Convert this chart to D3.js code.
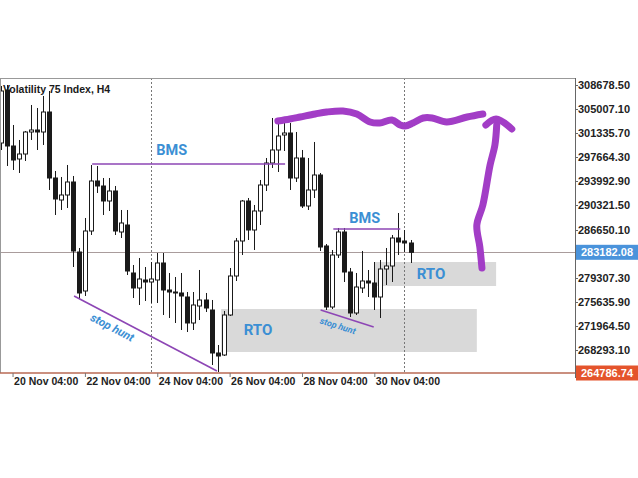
<!DOCTYPE html>
<html>
<head>
<meta charset="utf-8">
<script src="https://cdn.jsdelivr.net/npm/d3@7"></script>
<style>
  html, body { margin: 0; padding: 0; background: #fff; }
  svg { display: block; font-family: Roboto, "Liberation Sans", Arial, sans-serif; }
</style>
</head>
<body>
<svg id="chart" width="638" height="478"></svg>
<script>
// H4 bars, first one opens 19 Nov 20:00
const start = new Date(2020, 10, 19, 20, 0);
const barHours = 4;

const opens = [
  299840, 307917, 299383, 297401, 298163, 301516, 301821, 301516, 304564, 294506,
  291153, 291915, 293896, 283228, 277285, 286429, 294049, 293287, 291001, 292525,
  286276, 287343, 280028, 277742, 278961, 278656, 278961, 281552, 277437, 277132,
  276980, 276370, 272408, 274999, 275913, 274389, 267836, 267531, 273627, 279571,
  284905, 291001, 286581, 289477, 293439, 296792, 298773, 301059, 301364, 294506,
  297554, 290239, 292677, 294963, 284143, 274846, 282771, 286276, 280180, 273932,
  277742, 278809, 278504, 276370, 280637, 281095, 285362, 284905, 284600
];
const highs = [
  308527, 308679, 302583, 300297, 301669, 305631, 305174, 307003, 307765, 295573,
  294658, 296487, 294811, 283838, 288410, 296487, 296335, 294506, 294506, 293287,
  289629, 289629, 281247, 282314, 280942, 281704, 283076, 283076, 280028, 279418,
  280028, 277132, 277132, 280485, 276980, 275913, 269055, 274237, 280790, 285362,
  291153, 291458, 290391, 294201, 297554, 303650, 303193, 302888, 302888, 301516,
  298773, 297554, 299992, 295268, 284447, 283533, 286886, 286886, 280790, 280028,
  283381, 280485, 281704, 282009, 283838, 285819, 289172, 286581, 285057
];
const lows = [
  298773, 296335, 295725, 295268, 297097, 300297, 298773, 299535, 292677, 288867,
  289629, 289934, 280942, 276065, 276523, 285819, 292220, 288867, 289477, 285819,
  285362, 279723, 276218, 275151, 275761, 275456, 275456, 273627, 273170, 272408,
  271341, 271036, 271341, 272865, 274084, 266007, 264940, 267379, 273475, 278809,
  282771, 285057, 283533, 287343, 292525, 296030, 295420, 298621, 292677, 293896,
  289934, 289629, 291458, 283381, 274389, 274541, 282314, 278656, 273322, 273627,
  276980, 276370, 274389, 273170, 278199, 278656, 282771, 283228, 281552
];
const closes = [
  307765, 299383, 297249, 298163, 301516, 301821, 301516, 304564, 294506, 291305,
  291915, 293896, 283381, 276980, 286429, 294049, 293287, 291001, 292525, 286429,
  287648, 280333, 277742, 279113, 278656, 279113, 281552, 277437, 277132, 276980,
  276523, 272408, 275151, 275913, 274694, 267836, 267379, 273627, 279571, 284905,
  291001, 286581, 289477, 293439, 296792, 298773, 300907, 301364, 294506, 297554,
  290239, 292677, 294963, 283990, 274846, 282771, 286276, 280180, 273932, 277894,
  278809, 278504, 276370, 280637, 281095, 285362, 284752, 284600, 283182.08
];

const yTicks = [308678.50, 305007.10, 301335.70, 297664.30, 293992.90, 290321.50,
                286650.10, 279307.30, 275635.90, 271964.50, 268293.10];
const bidPrice = 283182.08;
const alertPrice = 264786.74;
const xTickBars = [2, 14, 26, 38, 50, 62];
const separatorBars = [25, 67];

// annotations: [fromBar, toBar, price]
const bmsLines = [[15.2, 47.2, 296640], [55.2, 66.3, 286730]];
const bmsLabels = [[28.4, 298010], [60.4, 287650]];
// [fromBar, fromPrice, toBar, toPrice]
const stopHunts = [[12.2, 276520, 35.9, 265090], [53.1, 274390, 61.9, 271800]];
const stopHuntSizes = [11.5, 9];
// [fromBar, toBar, topPrice, bottomPrice]
const rtoZones = [[36.6, 79.0, 274540, 267990], [62.1, 82.2, 281700, 278050]];
const rtoLabelBars = [42.7, 71.4];

// hand drawn marker
const scribbleBars = [46.0, 48.0, 49.7, 52.2, 54.1, 56.8, 59.1, 61.3, 62.9, 64.9, 66.3, 67.1, 68.4, 70.1, 71.6, 74.0, 77.4, 80.0];
const scribblePrices = [303193, 303498, 303803, 304260, 304564, 304717, 304260, 303040, 302888, 303345, 302583, 302430, 302888, 303650, 303650, 303040, 303803, 304260];
const arrowBars = [79.85, 79.5, 79.0, 80.0, 81.2, 82.0, 82.3];
const arrowPrices = [280790, 283990, 287343, 290391, 296487, 299535, 302583];
const arrowHeadBars = [80.5, 82.2, 84.8];
const arrowHeadPrices = [302583, 303498, 301973];

const timeAt = i => new Date(start.getTime() + i * barHours * 3600e3);

const plot = {left: 0, right: 575, top: 78, bottom: 373};
const purple = "#8d46b5", blue = "#3b8fd4", ink = "#1a1a1a";

const x = d3.scaleTime().domain([timeAt(0), timeAt(68)]).range([0.5, 410.5]);
const y = d3.scaleLinear().domain([268293.1, 308678.5]).range([350, 85]);
const X = i => x(timeAt(i));

const svg = d3.select("#chart");

svg.append("clipPath").attr("id", "plot-clip")
  .append("rect")
  .attr("x", plot.left).attr("y", plot.top)
  .attr("width", plot.right - plot.left).attr("height", plot.bottom - plot.top);

const g = svg.append("g").attr("clip-path", "url(#plot-clip)");

// RTO zones
g.selectAll(".rto").data(rtoZones).enter().append("rect")
  .attr("class", "rto")
  .attr("x", d => X(d[0]))
  .attr("y", d => y(d[2]))
  .attr("width", d => X(d[1]) - X(d[0]))
  .attr("height", d => y(d[3]) - y(d[2]))
  .attr("fill", "#d9d9d9");

// bid line
g.append("line")
  .attr("x1", plot.left).attr("x2", plot.right)
  .attr("y1", Math.round(y(bidPrice)) + 0.5).attr("y2", Math.round(y(bidPrice)) + 0.5)
  .attr("stroke", "#a99c9c").attr("stroke-width", 1.2);

// period separators
g.selectAll(".sep").data(separatorBars).enter().append("line")
  .attr("class", "sep")
  .attr("x1", d => Math.round(X(d)) + 0.5).attr("x2", d => Math.round(X(d)) + 0.5)
  .attr("y1", plot.top).attr("y2", plot.bottom)
  .attr("stroke", "#777").attr("stroke-dasharray", "2,2");

// candles
const bars = d3.range(opens.length).map(i => ({
  i, o: opens[i], h: highs[i], l: lows[i], c: closes[i]
}));

const candle = g.selectAll(".candle").data(bars).enter().append("g").attr("class", "candle");

candle.append("line")
  .attr("x1", d => Math.round(X(d.i)) + 0.5).attr("x2", d => Math.round(X(d.i)) + 0.5)
  .attr("y1", d => y(d.h)).attr("y2", d => y(d.l))
  .attr("stroke", ink).attr("stroke-width", 1);

candle.append("rect")
  .attr("x", d => Math.round(X(d.i)) - 1.5)
  .attr("y", d => y(Math.max(d.o, d.c)))
  .attr("width", 4)
  .attr("height", d => Math.max(1, Math.abs(y(d.o) - y(d.c))))
  .attr("fill", d => d.c >= d.o ? "#fff" : ink)
  .attr("stroke", ink).attr("stroke-width", 1);

// BMS lines
g.selectAll(".bms").data(bmsLines).enter().append("line")
  .attr("class", "bms")
  .attr("x1", d => X(d[0])).attr("x2", d => X(d[1]))
  .attr("y1", d => y(d[2])).attr("y2", d => y(d[2]))
  .attr("stroke", purple).attr("stroke-width", 1.6);

g.selectAll(".bms-label").data(bmsLabels).enter().append("text")
  .attr("class", "bms-label")
  .attr("x", d => X(d[0])).attr("y", d => y(d[1]))
  .attr("text-anchor", "middle")
  .attr("font-size", 14.5).attr("font-weight", "bold").attr("fill", blue)
  .text("BMS");

// stop hunt lines
g.selectAll(".hunt").data(stopHunts).enter().append("line")
  .attr("class", "hunt")
  .attr("x1", d => X(d[0])).attr("y1", d => y(d[1]))
  .attr("x2", d => X(d[2])).attr("y2", d => y(d[3]))
  .attr("stroke", purple).attr("stroke-width", 1.6);

const huntT = [0.3, 0.38];
g.selectAll(".hunt-label").data(stopHunts).enter().append("text")
  .attr("class", "hunt-label")
  .attr("transform", (d, k) => {
    const x1 = X(d[0]), y1 = y(d[1]), x2 = X(d[2]), y2 = y(d[3]);
    const ang = Math.atan2(y2 - y1, x2 - x1);
    const t = huntT[k];
    const cx = x1 + (x2 - x1) * t - Math.sin(ang) * 10;
    const cy = y1 + (y2 - y1) * t + Math.cos(ang) * 10;
    return `translate(${cx},${cy}) rotate(${ang * 180 / Math.PI})`;
  })
  .attr("text-anchor", "middle").attr("dominant-baseline", "central")
  .attr("font-style", "italic").attr("font-weight", "bold")
  .attr("font-size", (d, k) => stopHuntSizes[k])
  .attr("fill", blue)
  .text("stop hunt");

// RTO labels
g.selectAll(".rto-label").data(rtoZones).enter().append("text")
  .attr("class", "rto-label")
  .attr("x", (d, k) => X(rtoLabelBars[k]))
  .attr("y", d => (y(d[2]) + y(d[3])) / 2)
  .attr("text-anchor", "middle").attr("dominant-baseline", "central")
  .attr("font-size", 15).attr("font-weight", "bold").attr("fill", blue)
  .text("RTO");

// hand drawn marker
const freehand = d3.line()
  .x(d => X(d[0])).y(d => y(d[1]))
  .curve(d3.curveCatmullRom);

const markStyle = p => p.attr("fill", "none").attr("stroke", "#a23dc6")
  .attr("stroke-width", 7).attr("stroke-linecap", "round").attr("stroke-linejoin", "round");

g.append("path").datum(d3.zip(scribbleBars, scribblePrices)).attr("d", freehand).call(markStyle);
g.append("path").datum(d3.zip(arrowBars, arrowPrices)).attr("d", freehand).call(markStyle);
g.append("path").datum(d3.zip(arrowHeadBars, arrowHeadPrices)).attr("d", freehand).call(markStyle);

// frame
svg.append("line")
  .attr("x1", plot.left).attr("x2", plot.right)
  .attr("y1", plot.top + 0.5).attr("y2", plot.top + 0.5)
  .attr("stroke", "#999");
svg.append("line")
  .attr("x1", plot.right + 0.5).attr("x2", plot.right + 0.5)
  .attr("y1", plot.top).attr("y2", plot.bottom + 5)
  .attr("stroke", "#666");
svg.append("line")
  .attr("x1", plot.left + 0.5).attr("x2", plot.left + 0.5)
  .attr("y1", plot.top).attr("y2", plot.bottom)
  .attr("stroke", "#999");

// alert line at the bottom
svg.append("line")
  .attr("x1", plot.left).attr("x2", plot.right)
  .attr("y1", y(alertPrice)).attr("y2", y(alertPrice))
  .attr("stroke", "#b86a55").attr("stroke-width", 1.5);

// price axis
const yAxis = svg.append("g").attr("class", "y-axis");
yAxis.selectAll(".tick").data(yTicks).enter().append("g")
  .attr("class", "tick")
  .attr("transform", d => `translate(${plot.right},${Math.round(y(d)) + 0.5})`)
  .each(function () {
    const t = d3.select(this);
    t.append("line").attr("x2", 3).attr("stroke", "#666");
    t.append("text")
      .attr("x", 3).attr("dy", "0.35em")
      .attr("font-family", "'Liberation Sans', Arial, sans-serif")
      .attr("font-size", 11).attr("font-weight", "bold").attr("fill", "#222")
      .text(d => d3.format(".2f")(d));
  });

const tag = (price, fill) => {
  const ty = y(price);
  svg.append("rect")
    .attr("x", plot.right + 1).attr("y", ty - 7.5)
    .attr("width", 62).attr("height", 15)
    .attr("fill", fill);
  svg.append("text")
    .attr("x", plot.right + 32).attr("y", ty).attr("dy", "0.35em")
    .attr("text-anchor", "middle")
    .attr("font-family", "'Liberation Sans', Arial, sans-serif")
    .attr("font-size", 11).attr("font-weight", "bold").attr("fill", "#fff")
    .text(d3.format(".2f")(price));
};
tag(bidPrice, "#4a93db");
tag(alertPrice, "#e4542c");

// time axis
const xAxis = d3.axisBottom(x)
  .tickValues(xTickBars.map(timeAt))
  .tickFormat(d3.timeFormat("%d %b %H:%M"))
  .tickSize(4).tickSizeOuter(0);

const xg = svg.append("g")
  .attr("transform", `translate(0,${plot.bottom})`)
  .call(xAxis);
xg.select(".domain").remove();
xg.selectAll(".tick line").attr("stroke", "#777");
xg.selectAll(".tick text")
  .attr("text-anchor", "start").attr("x", 1).attr("y", 5)
  .attr("font-family", "'Liberation Sans', Arial, sans-serif")
  .attr("font-size", 10.5).attr("font-weight", "bold").attr("fill", "#222");

// title
svg.append("text")
  .attr("x", 3).attr("y", 93)
  .attr("font-family", "'Liberation Sans', Arial, sans-serif")
  .attr("font-size", 10.5).attr("font-weight", "bold").attr("fill", ink)
  .text("Volatility 75 Index, H4");
</script>
</body>
</html>
